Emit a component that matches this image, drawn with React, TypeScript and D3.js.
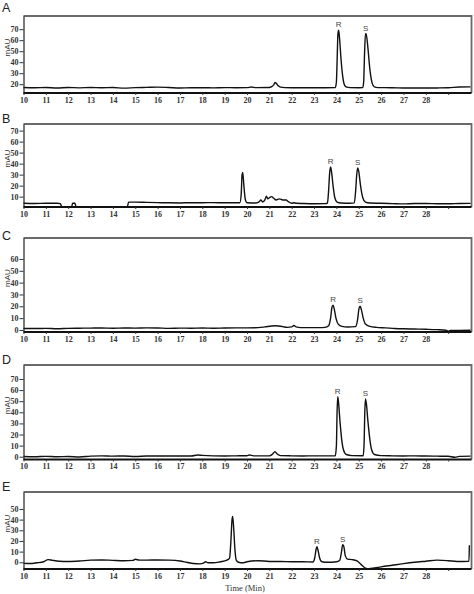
import React, { useEffect, useRef } from "react";
import * as d3 from "d3";

type Pt = [number, number];

// retention time (min), absorbance (mAU)
const traceA: Pt[] = [
  [10, 17], [10.5, 16.8], [11, 17], [11.5, 16.6], [12, 17], [12.5, 16.7], [13, 17], [13.5, 16.8],
  [14, 17], [14.5, 16.4], [15, 16.9], [15.5, 17.1], [16, 17.3], [16.5, 17], [17, 16.6], [17.5, 16.8],
  [18, 16.8], [18.5, 16.7], [19, 16.9], [19.5, 16.8], [20, 16.9], [20.2, 17.4], [20.4, 16.9], [21, 17],
  [21.1, 17.8], [21.2, 19.5], [21.25, 21.5], [21.3, 21], [21.4, 18.5], [21.5, 17.3], [21.7, 16.9],
  [22, 16.8], [22.5, 16.8], [23, 16.8], [23.5, 16.8], [23.95, 16.9], [24.0, 22], [24.03, 40],
  [24.07, 66], [24.1, 69], [24.14, 62], [24.21, 42], [24.29, 26], [24.37, 19], [24.47, 17.3],
  [24.6, 16.9], [25, 16.8], [25.18, 16.9], [25.22, 22], [25.26, 48], [25.3, 66], [25.33, 66],
  [25.4, 55], [25.5, 33], [25.6, 21], [25.7, 17.5], [25.85, 16.9], [26.5, 16.8], [27, 16.6],
  [27.5, 16.5], [28, 16.5], [28.5, 16.6], [29, 16.8], [29.5, 17.4], [30, 17.6],
];

const traceB: Pt[] = [
  [10, 4], [10.5, 3.8], [11, 4], [11.5, 4], [11.65, 3.6], [11.7, 1.2], [11.8, 0.6], [12, 0.8],
  [12.15, 0.6], [12.2, 4], [12.3, 4], [12.35, 1], [12.5, 0.5], [13, 0.6], [13.5, 0.8], [14, 0.7],
  [14.5, 0.9], [14.65, 1], [14.7, 5], [15, 5], [15.5, 4.8], [16, 4.6], [16.5, 4.4], [17, 4.3],
  [17.5, 4.5], [18, 4.5], [18.5, 4.6], [19, 4.4], [19.5, 4.5], [19.68, 4.5], [19.74, 12],
  [19.78, 30], [19.81, 32], [19.86, 20], [19.92, 8], [20.0, 4.5], [20.4, 4.3], [20.55, 5.5],
  [20.62, 7], [20.7, 5.2], [20.8, 7], [20.87, 10.5], [20.93, 8], [21.0, 9], [21.1, 10], [21.2, 8.5],
  [21.3, 7], [21.45, 8], [21.6, 7], [21.75, 7], [21.85, 5.5], [22.0, 4], [22.1, 4.5], [22.2, 4],
  [22.5, 3.8], [23, 3.6], [23.5, 3.7], [23.6, 4.2], [23.65, 15], [23.7, 32], [23.74, 37],
  [23.78, 33], [23.85, 20], [23.93, 9], [24.03, 5], [24.2, 4.2], [24.6, 4], [24.8, 4.3],
  [24.86, 15], [24.91, 30], [24.95, 36], [25.0, 33], [25.08, 20], [25.18, 9], [25.3, 5],
  [25.5, 4.2], [26, 4], [26.5, 3.7], [27, 3.4], [27.5, 3.8], [28, 3.8], [28.5, 3.6], [29, 3.5],
  [29.5, 3.8], [30, 3.9],
];

const traceC: Pt[] = [
  [10, 1.3], [10.5, 1.2], [11, 1.4], [11.5, 1.1], [12, 1.4], [12.5, 1.5], [13, 1.6], [13.5, 1.7],
  [14, 1.5], [14.5, 1.7], [15, 1.6], [15.5, 1.8], [16, 1.7], [16.5, 1.4], [17, 1.6], [17.5, 1.5],
  [18, 1.7], [18.5, 1.5], [19, 1.7], [19.5, 1.8], [20, 1.8], [20.5, 2], [20.8, 2.6], [21.1, 3.4],
  [21.3, 3.6], [21.6, 2.8], [21.8, 2.2], [22.0, 2.6], [22.1, 3.8], [22.2, 2.6], [22.4, 2],
  [22.8, 2], [23.2, 2], [23.5, 2.2], [23.65, 3.5], [23.74, 10], [23.8, 19], [23.85, 21],
  [23.91, 17], [23.98, 10], [24.08, 5], [24.25, 3], [24.5, 2.5], [24.85, 2.8], [24.95, 9],
  [25.01, 18], [25.06, 20], [25.12, 17], [25.2, 10], [25.3, 5], [25.5, 3], [25.8, 2.2],
  [26.2, 1.8], [26.6, 1.3], [27, 1], [27.5, 0.8], [28, 0.6], [28.5, 0.3], [28.9, -0.2],
  [29.0, -1], [29.1, -0.3], [29.5, -0.3], [30, -0.2],
];

const traceD: Pt[] = [
  [10, 0.2], [10.5, 0], [11, 0.3], [11.5, 0], [12, 0.2], [12.5, -0.2], [13, 0.5], [13.5, 0.8],
  [14, 0.5], [14.5, 0.7], [15, 0.2], [15.5, 0.6], [16, 0.7], [16.5, 0.6], [17, 0.7], [17.5, 0.6],
  [17.8, 1.5], [18, 1.2], [18.5, 0.8], [19, 0.7], [19.5, 0.8], [20, 0.9], [20.1, 1.5], [20.3, 0.8],
  [21, 0.8], [21.15, 2.5], [21.25, 4.5], [21.35, 2.5], [21.5, 1], [22, 0.8], [22.5, 0.7], [23, 0.8],
  [23.5, 0.8], [23.95, 0.9], [24.0, 10], [24.03, 40], [24.06, 54], [24.09, 50], [24.16, 32],
  [24.24, 15], [24.32, 6], [24.44, 2], [24.7, 1], [25.2, 0.9], [25.24, 12], [25.27, 40],
  [25.3, 52], [25.34, 48], [25.41, 32], [25.5, 15], [25.58, 6], [25.7, 2], [26, 1], [26.5, 0.8],
  [27, 0.7], [27.5, 0.8], [28, 0.6], [28.5, 0.5], [29, 0.4], [29.3, -0.5], [29.5, 0.3], [30, 0.5],
];

const traceE: Pt[] = [
  [10, -1], [10.3, -1.2], [10.6, -0.5], [10.9, 0.5], [11.1, 2.5], [11.3, 1.8], [11.6, 1], [12, 0.8],
  [12.5, 1.2], [13, 2], [13.5, 2.2], [14, 1.8], [14.5, 1.5], [14.9, 1.8], [15, 2.8], [15.2, 2],
  [15.5, 2], [16, 2.2], [16.5, 2], [17, 1.2], [17.3, 0], [17.6, -1.2], [17.9, -1.5], [18.05, -0.8],
  [18.15, 0.5], [18.25, -0.5], [18.5, -0.5], [18.8, 0.5], [19.1, 2], [19.22, 4], [19.28, 20],
  [19.33, 40], [19.36, 43], [19.41, 30], [19.46, 12], [19.52, 2], [19.62, 0], [19.8, -0.5],
  [20.0, 0.5], [20.5, 1.5], [21, 0.8], [21.5, 0.8], [22, 0.5], [22.5, 0.5], [22.95, 0.3],
  [23.03, 4], [23.09, 12], [23.13, 14.5], [23.17, 12], [23.25, 4], [23.35, 0.5], [23.6, 0],
  [24, 0.5], [24.15, 2], [24.23, 10], [24.28, 16.5], [24.33, 15], [24.4, 6], [24.5, 3],
  [24.7, 2.5], [24.9, 1.5], [25.0, 0], [25.15, -3], [25.3, -5.5], [25.45, -6], [25.7, -5.3],
  [26, -4.3], [26.5, -2.8], [27, -1.3], [27.5, 0], [28, 1], [28.5, 2], [29, 1.5], [29.4, 0.8],
  [29.93, 1], [29.95, 16],
];

// enantiomer peak labels: [time, apex mAU]
const peaksA: Pt[] = [[24.1, 69], [25.31, 66]];
const peaksB: Pt[] = [[23.74, 37], [24.95, 36]];
const peaksC: Pt[] = [[23.85, 21], [25.06, 20]];
const peaksD: Pt[] = [[24.06, 54], [25.3, 52]];
const peaksE: Pt[] = [[23.13, 14.5], [24.28, 16.5]];
const peakNames = ["R", "S"];

const panelLetters = ["A", "B", "C", "D", "E"];
const yTicksA = [20, 30, 40, 50, 60, 70];
const yTicksB = [10, 20, 30, 40, 50, 60, 70];
const yTicksC = [0, 10, 20, 30, 40, 50, 60];
const yTicksD = [0, 10, 20, 30, 40, 50, 60, 70];
const yTicksE = [0, 10, 20, 30, 40, 50];
const timeTicks = [10, 11, 12, 13, 14, 15, 16, 17, 18, 19, 20, 21, 22, 23, 24, 25, 26, 27, 28, 29];
const lastLabelledTick = 28;

const W = 474,
  H = 594;

// pixel frame of each panel and its mAU range
const layout = [
  { top: 16, bottom: 93, yMin: 12, yMax: 82, trace: traceA, peaks: peaksA, ticks: yTicksA },
  { top: 124, bottom: 207, yMin: 0.6, yMax: 76, trace: traceB, peaks: peaksB, ticks: yTicksB },
  { top: 238, bottom: 332, yMin: -1.7, yMax: 77.7, trace: traceC, peaks: peaksC, ticks: yTicksC },
  { top: 365, bottom: 459.5, yMin: -2.5, yMax: 82.6, trace: traceD, peaks: peaksD, ticks: yTicksD },
  { top: 492, bottom: 569, yMin: -6.3, yMax: 65.9, trace: traceE, peaks: peaksE, ticks: yTicksE },
];

const serif = "'Liberation Serif', 'DejaVu Serif', serif";
const sans = "'Liberation Sans', Arial, sans-serif";

export default function App(): React.ReactElement {
  const svgRef = useRef<SVGSVGElement>(null);

  useEffect(() => {
    const svg = d3.select(svgRef.current);
    svg.selectChildren().remove();

    const left = 23.5,
      right = 470.5;

    const x = d3.scaleLinear().domain([10, 30]).range([left, right]);

    layout.forEach((p, i) => {
      const y = d3.scaleLinear().domain([p.yMin, p.yMax]).range([p.bottom, p.top]);
      const g = svg.append("g").attr("class", `panel-${panelLetters[i]}`);

      // frame (top + right grey)
      g.append("path")
        .attr("d", `M${left},${p.top}H${right + 1}V${p.bottom}`)
        .attr("fill", "none")
        .attr("stroke", "#6a6a6a")
        .attr("stroke-width", 1.8);

      // trace
      const line = d3
        .line<Pt>()
        .x((d) => x(d[0]))
        .y((d) => y(d[1]))
        .curve(d3.curveMonotoneX);

      g.append("path")
        .datum(p.trace)
        .attr("d", line)
        .attr("fill", "none")
        .attr("stroke", "#111")
        .attr("stroke-width", 1.4)
        .attr("stroke-linejoin", "round");

      // y axis
      const yAxis = g
        .append("g")
        .attr("transform", `translate(${left},0)`)
        .call(
          d3
            .axisLeft(y)
            .tickValues(p.ticks)
            .tickSize(4)
            .tickSizeOuter(0)
            .tickPadding(1)
            .tickFormat((d) => String(d))
        );
      yAxis.select(".domain").attr("stroke", "#222").attr("stroke-width", 1.2);
      yAxis.selectAll(".tick line").attr("stroke", "#333");
      yAxis
        .selectAll(".tick text")
        .attr("font-family", serif)
        .attr("font-weight", "bold")
        .attr("font-size", 8)
        .attr("fill", "#333");

      // x axis
      const xAxis = g
        .append("g")
        .attr("transform", `translate(0,${p.bottom})`)
        .call(
          d3
            .axisBottom(x)
            .tickValues(timeTicks)
            .tickSize(2)
            .tickSizeOuter(0)
            .tickPadding(2)
            .tickFormat((d) => (+d <= lastLabelledTick ? String(d) : ""))
        );
      xAxis
        .select(".domain")
        .attr("d", `M${left},0H${right + 1}`)
        .attr("stroke", "#111")
        .attr("stroke-width", 2);
      xAxis.selectAll(".tick line").attr("stroke", "#333");
      xAxis
        .selectAll(".tick text")
        .attr("font-family", serif)
        .attr("font-weight", "bold")
        .attr("font-size", 8)
        .attr("fill", "#333");

      // mAU label
      const mid = (p.top + p.bottom) / 2 - 7;
      g.append("text")
        .attr("transform", `translate(9.5,${mid}) rotate(-90)`)
        .attr("text-anchor", "middle")
        .attr("font-family", sans)
        .attr("font-size", 8)
        .attr("fill", "#333")
        .text("mAU");

      // panel letter
      g.append("text")
        .attr("x", 2)
        .attr("y", p.top - 3 + (i === 0 ? -1 : i === 2 ? 5 : 2))
        .attr("font-family", sans)
        .attr("font-size", 12.5)
        .attr("fill", "#222")
        .text(panelLetters[i]);

      // R / S labels
      g.selectAll("text.peak")
        .data(p.peaks)
        .enter()
        .append("text")
        .attr("class", "peak")
        .attr("x", (d) => x(d[0]))
        .attr("y", (d) => y(d[1]) - 3)
        .attr("text-anchor", "middle")
        .attr("font-family", sans)
        .attr("font-size", 8)
        .attr("fill", "#444")
        .text((_, j) => peakNames[j]);
    });

    svg
      .append("text")
      .attr("x", 245)
      .attr("y", 591)
      .attr("text-anchor", "middle")
      .attr("font-family", serif)
      .attr("font-size", 8.5)
      .attr("fill", "#333")
      .text("Time (Min)");
  }, []);

  return (
    <div style={{ position: "absolute", left: 0, top: 0, width: W, height: H, background: "#fff" }}>
      <svg ref={svgRef} width={W} height={H} xmlns="http://www.w3.org/2000/svg" />
    </div>
  );
}
